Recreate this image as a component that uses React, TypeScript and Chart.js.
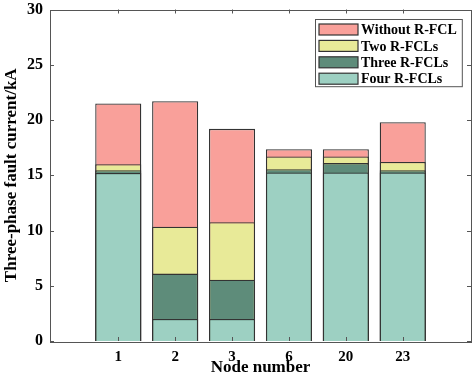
import React, { useEffect, useRef } from "react";
import { Chart, registerables } from "chart.js";

Chart.register(...registerables);

const nodes = ["1", "2", "3", "6", "20", "23"];
const seriesNames = ["Without R-FCL", "Two R-FCLs", "Three R-FCLs", "Four R-FCLs"];
const withoutRFCL = [21.5, 21.7, 19.2, 17.35, 17.35, 19.8];
const twoRFCLs = [16.0, 10.35, 10.75, 16.7, 16.7, 16.2];
const threeRFCLs = [15.45, 6.1, 5.55, 15.55, 16.1, 15.45];
const fourRFCLs = [15.2, 2.0, 2.0, 15.25, 15.25, 15.25];
const seriesColors = ["#F9A09A", "#E8EA98", "#5E8C7A", "#9DD0C2"];
const yTicks = [0, 5, 10, 15, 20, 25, 30];

const FONT = "'Liberation Serif', 'Times New Roman', serif";

const boxPlugin = {
  id: "matlabBox",
  afterDatasetsDraw(chart: any) {
    const { ctx, chartArea: a, scales } = chart;
    ctx.save();
    ctx.strokeStyle = "#555";
    ctx.lineWidth = 1;
    ctx.strokeRect(Math.round(a.left) + 0.5, Math.round(a.top) + 0.5, Math.round(a.right - a.left), Math.round(a.bottom - a.top));
    const L = 4;
    ctx.beginPath();
    scales.x.ticks.forEach((t: any) => {
      const px = Math.round(scales.x.getPixelForValue(t.value)) + 0.5;
      ctx.moveTo(px, a.bottom);
      ctx.lineTo(px, a.bottom - L);
      ctx.moveTo(px, a.top);
      ctx.lineTo(px, a.top + L);
    });
    scales.y.ticks.forEach((t: any) => {
      const py = Math.round(scales.y.getPixelForValue(t.value)) + 0.5;
      ctx.moveTo(a.left, py);
      ctx.lineTo(a.left + L, py);
      ctx.moveTo(a.right, py);
      ctx.lineTo(a.right - L, py);
    });
    ctx.stroke();
    ctx.restore();
  },
  afterDraw(chart: any) {
    const { ctx, chartArea: a } = chart;
    const ds = chart.data.datasets;
    ctx.save();
    ctx.font = `bold 14px ${FONT}`;
    let maxW = 0;
    ds.forEach((d: any) => {
      maxW = Math.max(maxW, ctx.measureText(d.label).width);
    });
    const sw = 39, sh = 11, padL = 4, gap = 3, padR = 5, rowH = 16.4, padT = 5, padB = 2;
    const w = padL + sw + gap + maxW + padR;
    const h = padT + rowH * ds.length - (rowH - sh) + padB;
    const x0 = Math.round(a.right - 9 - w);
    const y0 = Math.round(a.top + 9);
    ctx.fillStyle = "#fff";
    ctx.fillRect(x0, y0, w, h);
    ctx.strokeStyle = "#555";
    ctx.lineWidth = 1;
    ctx.strokeRect(x0 + 0.5, y0 + 0.5, w, h);
    ds.forEach((d: any, i: number) => {
      const sy = y0 + padT + i * rowH;
      ctx.fillStyle = d.backgroundColor;
      ctx.fillRect(x0 + padL, sy, sw, sh);
      ctx.strokeStyle = "#333";
      ctx.lineWidth = 1.2;
      ctx.strokeRect(x0 + padL, sy, sw, sh);
      ctx.fillStyle = "#000";
      ctx.textBaseline = "middle";
      ctx.textAlign = "left";
      ctx.fillText(d.label, x0 + padL + sw + gap, sy + sh / 2 + 1);
    });
    ctx.restore();
  },
};

export default function App() {
  const ref = useRef<HTMLCanvasElement>(null);
  useEffect(() => {
    if (!ref.current) return;
    const series = [withoutRFCL, twoRFCLs, threeRFCLs, fourRFCLs];
    const chart = new Chart(ref.current, {
      type: "bar",
      data: {
        datasets: series.map((vals, si) => ({
          label: seriesNames[si],
          data: vals.map((v, i) => ({ x: i + 1, y: v })),
          backgroundColor: seriesColors[si],
          borderColor: "#333",
          borderWidth: 1.3,
          grouped: false,
          order: 3 - si,
          categoryPercentage: 1,
          barPercentage: 0.81,
        })),
      },
      options: {
        responsive: false,
        animation: false,
        layout: { padding: { left: 0, top: 9.5, right: 3, bottom: 0 } },
        plugins: { legend: { display: false }, tooltip: { enabled: false } },
        scales: {
          x: {
            type: "linear",
            min: -0.2,
            max: 7.2,
            offset: false,
            grid: { display: false, drawTicks: false, offset: false },
            border: { display: false },
            afterBuildTicks: (s: any) => {
              s.ticks = nodes.map((_, i) => ({ value: i + 1 }));
            },
            afterFit: (s: any) => {
              s.height = 45;
              s.paddingLeft = 0;
              s.paddingRight = 0;
            },
            ticks: {
              padding: 7,
              color: "#000",
              maxRotation: 0,
              font: { family: FONT, size: 15, weight: "bold" },
              callback: (v: any) => nodes[Math.round(v) - 1] ?? "",
            },
            title: {
              display: true,
              text: "Node number",
              color: "#000",
              padding: { top: 0, bottom: 8 },
              font: { family: FONT, size: 17, weight: "bold" },
            },
          },
          y: {
            min: 0,
            max: 30,
            grid: { display: false, drawTicks: false },
            border: { display: false },
            afterBuildTicks: (s: any) => {
              s.ticks = yTicks.map((v) => ({ value: v }));
            },
            afterFit: (s: any) => {
              s.width = 50;
              s.paddingTop = 0;
              s.paddingBottom = 0;
            },
            ticks: {
              padding: 7,
              color: "#000",
              font: { family: FONT, size: 16, weight: "bold" },
            },
            title: {
              display: true,
              text: "Three-phase fault current/kA",
              color: "#000",
              padding: { top: 1, bottom: 0 },
              font: { family: FONT, size: 17, weight: "bold" },
            },
          },
        },
      } as any,
      plugins: [boxPlugin],
    });
    return () => chart.destroy();
  }, []);
  return (
    <div style={{ position: "absolute", left: 0, top: 0, width: 474, height: 386, background: "#fff" }}>
      <canvas ref={ref} width={474} height={386} />
    </div>
  );
}
